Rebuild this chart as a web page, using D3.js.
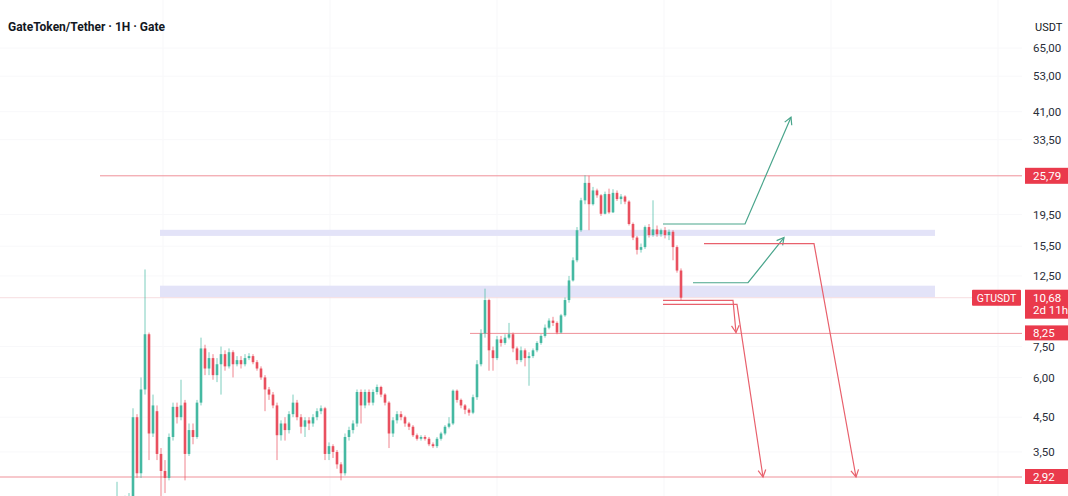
<!DOCTYPE html>
<html>
<head>
<meta charset="utf-8">
<script src="https://cdn.jsdelivr.net/npm/d3@7"></script>
<style>
  html, body { margin: 0; padding: 0; background: #fff; }
  svg { display: block; font-family: Roboto, "Liberation Sans", sans-serif; }
</style>
</head>
<body>
<svg id="chart" width="1068" height="496"></svg>
<script>
// hourly candles
const opens = [2.40, 2.45, 2.42, 2.48, 2.50, 4.50, 3.00, 5.50, 8.20, 4.00, 4.70, 3.45, 3.05, 2.90, 3.90, 4.85, 4.50, 5.00, 3.45, 4.10,
  3.90, 5.00, 7.40, 6.40, 6.90, 6.10, 6.60, 7.10, 6.50, 7.20, 6.60, 6.80, 6.60, 6.90, 7.00, 6.70, 6.40, 6.00, 5.50, 5.30,
  4.90, 3.95, 4.30, 4.10, 4.60, 5.00, 4.50, 4.20, 4.40, 4.30, 4.50, 4.70, 4.80, 3.45, 3.65, 3.50, 3.20, 3.00, 3.90, 4.10,
  4.30, 5.40, 4.90, 5.40, 5.00, 5.40, 5.60, 5.30, 5.00, 4.00, 4.40, 4.60, 4.50, 4.30, 4.20, 3.95, 3.85, 3.90, 3.85, 3.70,
  3.65, 3.85, 4.00, 4.20, 4.30, 5.45, 5.10, 4.90, 4.75, 4.65, 5.20, 6.60, 8.25, 10.50, 7.30, 6.90, 7.90, 7.70, 8.00, 8.20,
  7.40, 6.80, 7.30, 6.90, 7.00, 7.30, 7.70, 8.10, 8.60, 9.05, 8.90, 8.30, 9.40, 10.50, 12.10, 14.00, 17.40, 21.60, 24.50, 21.00,
  23.20, 22.40, 19.60, 22.60, 19.80, 22.80, 21.80, 22.20, 21.40, 18.20, 16.50, 15.10, 15.40, 17.80, 16.80, 17.50, 16.90, 17.40, 16.80, 17.20,
  15.40, 13.00];
const highs = [2.82, 2.50, 2.55, 2.60, 4.80, 4.60, 6.00, 13.10, 8.30, 5.30, 4.90, 3.60, 3.30, 4.00, 5.00, 5.00, 5.90, 5.10, 4.30, 4.30,
  5.10, 8.00, 7.60, 7.20, 7.10, 6.90, 7.50, 7.30, 7.40, 7.30, 7.00, 7.00, 7.10, 7.15, 7.10, 6.80, 6.50, 6.10, 5.60, 5.40,
  5.00, 4.40, 4.50, 4.70, 5.30, 5.10, 4.60, 4.50, 4.50, 4.60, 4.80, 4.90, 4.85, 3.75, 3.70, 3.55, 3.25, 4.00, 4.20, 4.40,
  5.50, 5.50, 5.50, 5.50, 5.50, 5.70, 5.65, 5.35, 5.05, 4.50, 4.70, 4.70, 4.55, 4.35, 4.25, 4.00, 3.95, 3.95, 3.90, 3.75,
  3.90, 4.05, 4.25, 4.50, 5.50, 5.50, 5.15, 4.95, 4.80, 5.30, 6.80, 8.50, 11.40, 10.60, 7.50, 8.10, 8.10, 8.20, 8.90, 8.30,
  7.50, 7.50, 7.40, 7.20, 7.40, 7.80, 8.20, 8.80, 9.20, 9.30, 9.00, 9.50, 10.70, 12.50, 14.30, 17.80, 22.00, 25.90, 25.80, 23.80,
  23.50, 22.60, 23.00, 23.50, 23.40, 23.20, 22.60, 22.40, 21.60, 18.40, 16.70, 15.80, 18.00, 18.20, 21.60, 18.00, 17.60, 17.80, 17.50, 17.40,
  15.60, 13.20];
const lows = [2.30, 2.30, 2.35, 2.40, 2.40, 2.90, 2.90, 5.30, 3.30, 3.90, 3.30, 2.50, 2.60, 2.85, 3.80, 4.30, 4.40, 2.85, 3.40, 3.70,
  3.85, 4.90, 6.10, 6.10, 5.90, 5.80, 5.30, 6.30, 6.40, 6.00, 6.50, 6.40, 6.50, 6.80, 6.60, 6.30, 5.90, 4.70, 5.10, 4.80,
  3.30, 3.80, 3.80, 4.00, 4.50, 4.40, 4.00, 3.90, 4.10, 4.20, 4.40, 4.60, 3.30, 3.30, 3.35, 3.10, 2.85, 2.95, 3.80, 4.00,
  4.20, 4.30, 4.80, 4.90, 4.90, 5.30, 5.20, 4.90, 3.60, 3.90, 4.30, 4.40, 4.20, 4.10, 3.90, 3.80, 3.80, 3.80, 3.65, 3.60,
  3.60, 3.80, 3.95, 4.15, 4.25, 5.00, 4.80, 4.60, 4.55, 4.60, 5.10, 6.50, 8.00, 6.30, 6.30, 6.80, 7.50, 7.60, 7.90, 7.20,
  6.60, 6.70, 6.50, 5.65, 6.90, 7.20, 7.60, 8.00, 8.50, 8.70, 8.20, 8.25, 9.30, 10.30, 12.00, 13.80, 17.20, 21.00, 17.40, 20.80,
  22.00, 19.30, 19.50, 19.60, 19.70, 21.50, 21.00, 21.00, 18.00, 16.20, 14.60, 14.80, 15.20, 16.50, 16.60, 16.60, 16.60, 16.40, 16.20, 14.00,
  12.80, 10.50];
const closes = [2.45, 2.42, 2.48, 2.50, 4.50, 3.00, 5.50, 8.20, 4.00, 4.90, 3.45, 3.05, 2.90, 3.90, 4.85, 4.50, 4.90, 3.45, 4.10, 3.90,
  5.00, 7.40, 6.40, 6.90, 6.10, 6.60, 7.10, 6.50, 7.20, 6.60, 6.80, 6.60, 6.90, 7.00, 6.70, 6.40, 6.00, 5.50, 5.30, 4.90,
  3.95, 4.30, 4.10, 4.60, 5.00, 4.50, 4.20, 4.40, 4.30, 4.50, 4.70, 4.80, 3.45, 3.65, 3.50, 3.20, 3.00, 3.90, 4.10, 4.30,
  5.40, 4.90, 5.40, 5.00, 5.40, 5.60, 5.30, 5.00, 4.00, 4.40, 4.60, 4.50, 4.30, 4.20, 3.95, 3.85, 3.90, 3.85, 3.70, 3.65,
  3.85, 4.00, 4.20, 4.30, 5.45, 5.10, 4.90, 4.75, 4.65, 5.20, 6.60, 8.25, 10.50, 7.30, 6.90, 7.90, 7.70, 8.00, 8.20, 7.40,
  6.80, 7.30, 6.90, 7.00, 7.30, 7.70, 8.10, 8.60, 9.05, 8.90, 8.30, 9.40, 10.50, 12.10, 14.00, 17.40, 21.60, 24.50, 21.00, 23.20,
  22.40, 19.60, 22.60, 19.80, 22.80, 21.80, 22.20, 21.40, 18.20, 16.50, 15.10, 15.40, 17.80, 16.80, 17.50, 16.90, 17.40, 16.80, 17.20, 15.40,
  13.00, 10.68];

const tickValues = [65, 53, 41, 33.5, 19.5, 15.5, 12.5, 7.5, 6, 4.5, 3.5];
const lastPrice = 10.68;
const levels = [{v: 25.79, from: -4.25}, {v: 8.25, from: 88.25}, {v: 2.92, from: -30}];
// zones: [fromIndex, toIndex, top, bottom]
const zones = [[10.75, 204.5, 17.45, 16.7], [10.75, 204.5, 11.65, 10.7]];
// drawn paths in [candle index, price]
const greenPaths = [
  [[136.5, 18.2], [157, 18.2], [168.5, 39.4]],
  [[144, 11.9], [157.75, 11.9], [166.75, 16.5]]
];
const redPaths = [
  [[146.75, 15.8], [174.25, 15.8], [184.75, 2.92]],
  [[136.5, 10.47], [154, 10.47], [154.75, 8.3]],
  [[136.5, 10.17], [155, 10.17], [161.5, 2.92]]
];
const gridIdx = [11.5, 53.25, 95, 136.75, 178.5, 220.25];

const upColor = '#45b9a2';
const downColor = '#e9505f';
const fmt = v => d3.format('.2f')(v).replace('.', ',');

const svg = d3.select('#chart');
const plotRight = 1022;

const x = d3.scaleLinear().domain([0, closes.length - 1]).range([117, 681]);
const y = d3.scaleLog().domain([65, 2.92]).range([48, 477]);

svg.append('rect').attr('width', 1068).attr('height', 496).attr('fill', '#fff');

// grid
svg.append('g').selectAll('line').data(gridIdx).enter().append('line')
  .attr('x1', d => x(d)).attr('x2', d => x(d))
  .attr('y1', 0).attr('y2', 496)
  .attr('stroke', '#f7f7f9');
svg.append('g').selectAll('line').data(tickValues).enter().append('line')
  .attr('x1', 0).attr('x2', plotRight)
  .attr('y1', d => y(d)).attr('y2', d => y(d))
  .attr('stroke', '#f8f8fa');

// zones
svg.append('g').selectAll('rect').data(zones).enter().append('rect')
  .attr('x', d => x(d[0]))
  .attr('width', d => x(d[1]) - x(d[0]))
  .attr('y', d => y(d[2]))
  .attr('height', d => y(d[3]) - y(d[2]))
  .attr('fill', '#e3e3f8');

// last price line
svg.append('line')
  .attr('x1', 0).attr('x2', 972)
  .attr('y1', y(lastPrice)).attr('y2', y(lastPrice))
  .attr('stroke', '#f6dde0').attr('stroke-width', 1);

// horizontal levels
svg.append('g').selectAll('line').data(levels).enter().append('line')
  .attr('x1', d => Math.max(0, x(d.from))).attr('x2', plotRight)
  .attr('y1', d => y(d.v)).attr('y2', d => y(d.v))
  .attr('stroke', '#ef9199').attr('stroke-width', 1);

// candles
const idx = d3.range(closes.length);
const candles = svg.append('g');
candles.selectAll('.wick').data(idx).enter().append('line')
  .attr('class', 'wick')
  .attr('x1', i => x(i)).attr('x2', i => x(i))
  .attr('y1', i => y(highs[i])).attr('y2', i => y(lows[i]))
  .attr('stroke', i => closes[i] >= opens[i] ? upColor : downColor)
  .attr('stroke-opacity', 0.7)
  .attr('stroke-width', 1);
candles.selectAll('.body').data(idx).enter().append('rect')
  .attr('class', 'body')
  .attr('x', i => x(i) - 1.3)
  .attr('width', 2.6)
  .attr('y', i => y(Math.max(opens[i], closes[i])))
  .attr('height', i => Math.max(1, Math.abs(y(opens[i]) - y(closes[i]))))
  .attr('fill', i => closes[i] >= opens[i] ? upColor : downColor);

// arrows
const drawPath = (pts, color) => {
  const p = pts.map(d => [x(d[0]), y(d[1])]);
  const g = svg.append('g');
  g.append('path')
    .attr('d', d3.line()(p))
    .attr('fill', 'none')
    .attr('stroke', color)
    .attr('stroke-width', 1.2);
  const a = p[p.length - 2];
  const b = p[p.length - 1];
  const ang = Math.atan2(b[1] - a[1], b[0] - a[0]);
  const len = 8;
  const head = [
    [b[0] - len * Math.cos(ang - 0.5), b[1] - len * Math.sin(ang - 0.5)],
    b,
    [b[0] - len * Math.cos(ang + 0.5), b[1] - len * Math.sin(ang + 0.5)]
  ];
  g.append('path')
    .attr('d', d3.line()(head))
    .attr('fill', 'none')
    .attr('stroke', color)
    .attr('stroke-width', 1.2);
};
greenPaths.forEach(p => drawPath(p, '#4aa58c'));
redPaths.forEach(p => drawPath(p, '#e8606c'));

// title
svg.append('text')
  .attr('x', 8).attr('y', 31)
  .attr('font-size', 12)
  .attr('font-weight', 700)
  .attr('fill', '#131722')
  .text('GateToken/Tether · 1H · Gate');

// price axis
svg.append('text')
  .attr('x', 1035).attr('y', 31)
  .attr('font-size', 11)
  .attr('fill', '#131722')
  .text('USDT');

const axis = svg.append('g')
  .attr('transform', 'translate(1027,0)')
  .call(d3.axisRight(y).tickValues(tickValues).tickSize(0).tickPadding(6).tickFormat(fmt));
axis.select('.domain').remove();
axis.selectAll('text').attr('font-size', 11.5).attr('fill', '#2a2e39')
  .attr('font-family', 'Roboto, "Liberation Sans", sans-serif');

// price tags
const tag = (v, h, lines) => {
  const g = svg.append('g');
  g.append('rect')
    .attr('x', 1025).attr('y', y(v) - 8)
    .attr('width', 45).attr('height', h)
    .attr('fill', '#ea3a4c');
  lines.forEach((t, k) => {
    g.append('text')
      .attr('x', 1033).attr('y', y(v) + 4 + k * 12)
      .attr('font-size', 11.5)
      .attr('fill', '#fff')
      .text(t);
  });
};
tag(25.79, 16, [fmt(25.79)]);
tag(8.25, 15, [fmt(8.25)]);
tag(2.92, 15, [fmt(2.92)]);
tag(lastPrice, 29, [fmt(lastPrice), '2d 11h']);

svg.append('rect')
  .attr('x', 972).attr('y', y(lastPrice) - 8)
  .attr('width', 49).attr('height', 16)
  .attr('rx', 1)
  .attr('fill', '#ea3a4c');
svg.append('text')
  .attr('x', 996.5).attr('y', y(lastPrice) + 4)
  .attr('text-anchor', 'middle')
  .attr('font-size', 10.5)
  .attr('fill', '#fff')
  .text('GTUSDT');
</script>
</body>
</html>
